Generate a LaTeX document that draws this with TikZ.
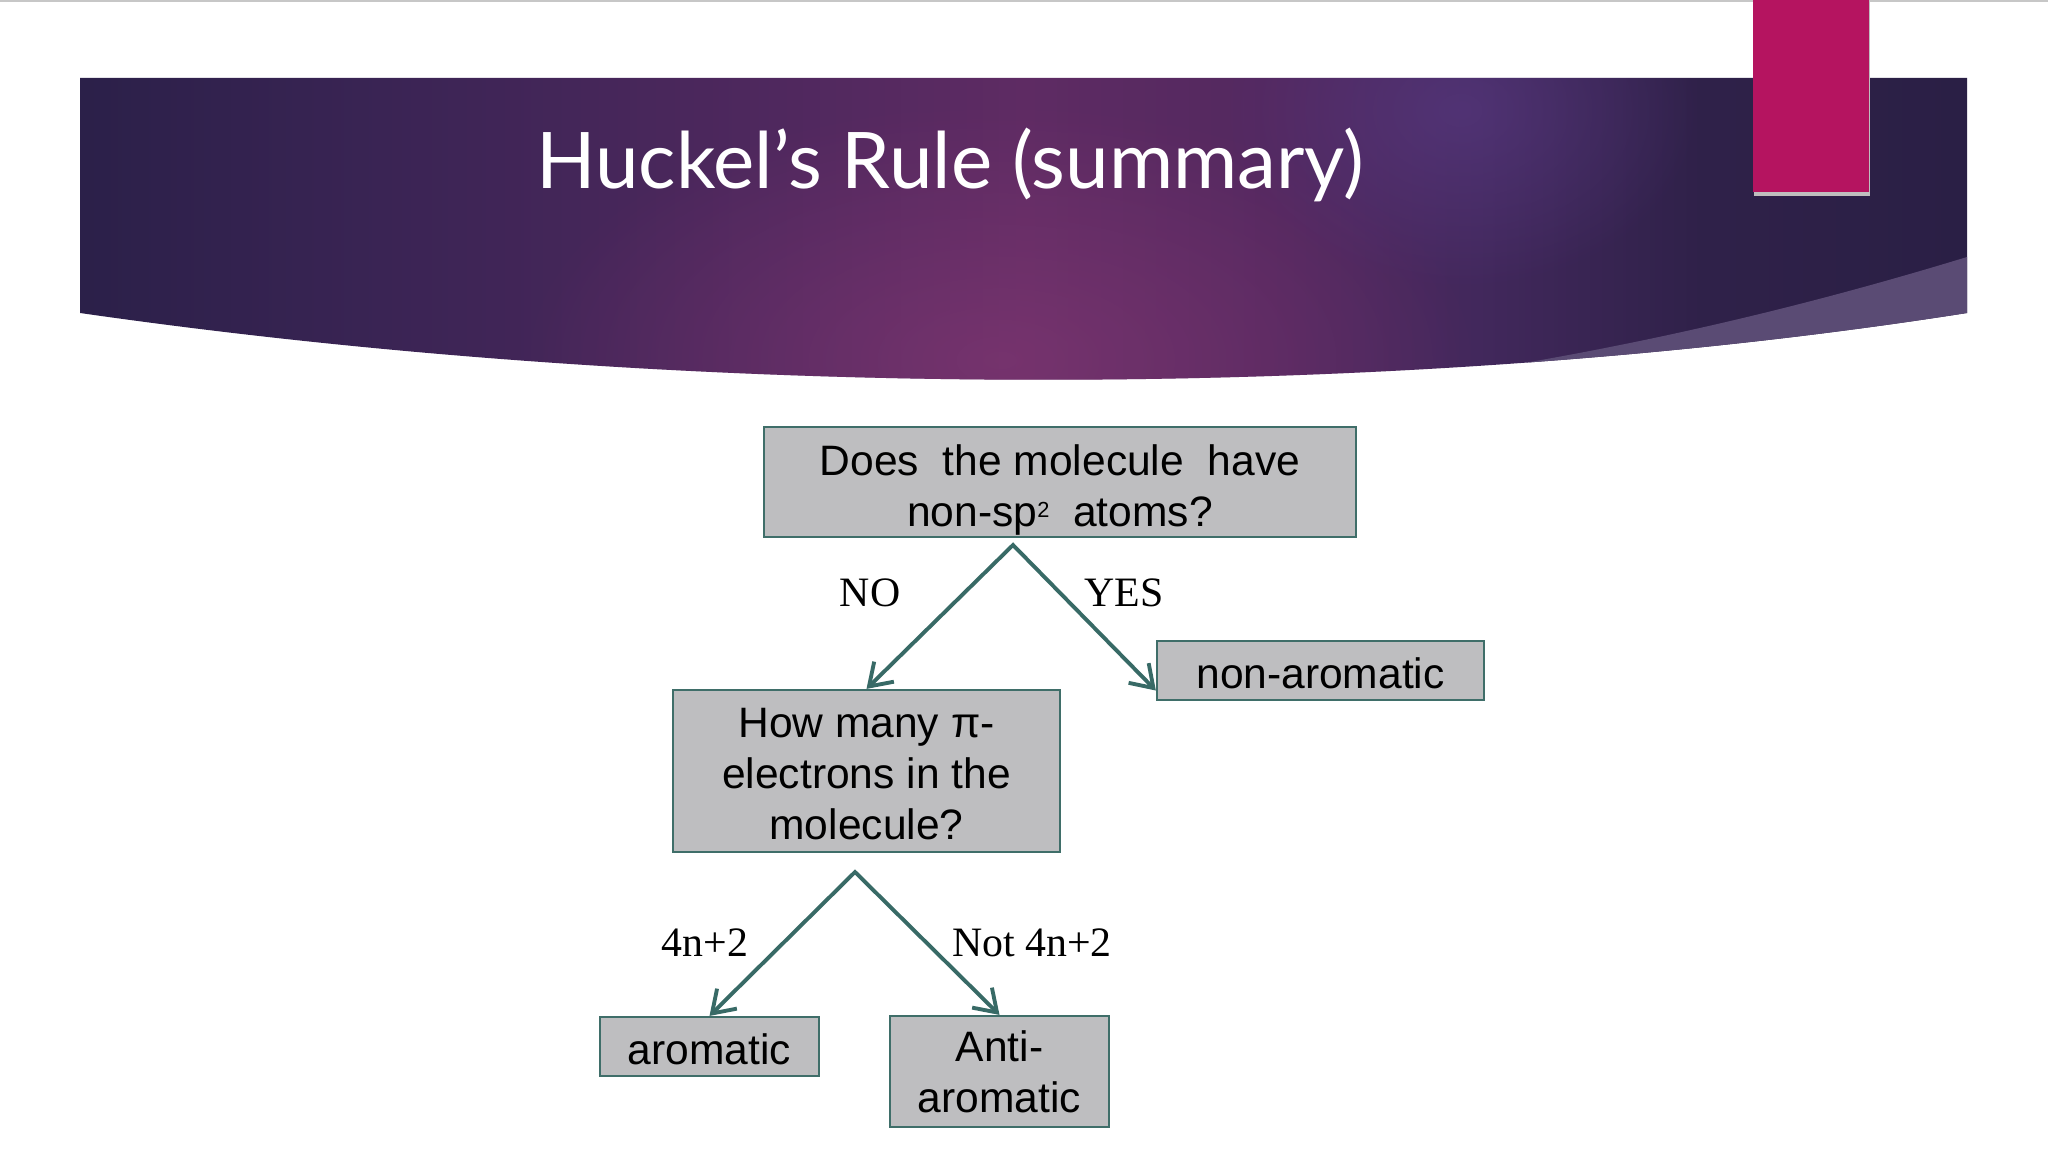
\documentclass[tikz,border=0pt]{standalone}
\usepackage{fontspec}
\setmainfont{Liberation Sans}
\newfontfamily\timesfont{Liberation Serif}
\newfontfamily\titlefont{Lato}
\usetikzlibrary{arrows.meta,fadings}
\definecolor{boxfill}{HTML}{BEBEC0}
\definecolor{boxline}{HTML}{3F6E69}
\definecolor{arrowteal}{HTML}{386A66}
\definecolor{tagpink}{HTML}{B51460}
\definecolor{swoosh}{HTML}{5A4B74}
\definecolor{glowpink}{HTML}{8A3A76}
\definecolor{glowviolet}{HTML}{5C3C88}
\definecolor{bnA}{HTML}{2B2049}
\definecolor{bnB}{HTML}{3A2454}
\definecolor{bnC}{HTML}{4F285E}
\definecolor{bnD}{HTML}{5E2B63}
\definecolor{bnE}{HTML}{52285F}
\definecolor{bnF}{HTML}{42285C}
\definecolor{bnG}{HTML}{2F2149}
\definecolor{bnH}{HTML}{2A1F45}
\pgfdeclarehorizontalshading{bannershade}{100bp}{color(0bp)=(bnA); color(25bp)=(bnA); color(33bp)=(bnB); color(43.5bp)=(bnC); color(50bp)=(bnD); color(57bp)=(bnE); color(62bp)=(bnF); color(68bp)=(bnG); color(75bp)=(bnH); color(100bp)=(bnH)}
\tikzfading[name=glowfade, inner color=transparent!45, outer color=transparent!100]
\newcommand{\smalltwo}{\raisebox{2.6pt}{\fontsize{6.2}{7}\selectfont 2}}
\begin{document}
\begin{tikzpicture}[x=0.01cm,y=-0.01cm,>={Straight Barb[length=6pt,width=8pt]},
  box/.style={draw=boxline,line width=0.6pt,fill=boxfill,align=center,inner sep=0pt,text height=10.3pt,font=\fontsize{12.1}{14.6}\selectfont},
  lab/.style={font=\timesfont\fontsize{11.9}{14}\selectfont},
  link/.style={<->,draw=arrowteal,line width=1.1pt}]
\useasboundingbox (0,0) rectangle (2048,1152);
\fill[white] (0,0) rectangle (2048,1152);
\draw[black!22,line width=0.6pt] (0,1) -- (2048,1);
% title banner
\path[shading=bannershade] (80,78) -- (1967,78) -- (1967,313) .. controls (1400,402) and (700,402) .. (80,313) -- cycle;
\begin{scope}
  \clip (80,78) -- (1967,78) -- (1967,313) .. controls (1400,402) and (700,402) .. (80,313) -- cycle;
  \fill[glowpink, path fading=glowfade] (1000,360) ellipse (480 and 260);
  \fill[glowviolet, path fading=glowfade] (1460,110) ellipse (240 and 180);
  \fill[swoosh] (1967,257) .. controls (1800,308) and (1640,345) .. (1470,372) -- (1300,420) -- (2000,420) -- (2000,257) -- cycle;
\end{scope}
\node[text=white,font=\titlefont\fontsize{22.2}{27}\selectfont,anchor=base] (title) at (950,189) {Huckel’s Rule (summary)};
% tag
\fill[black!25] (1754,0) rectangle (1870,196);
\fill[tagpink] (1753,0) rectangle (1869,192);
% flow chart
\node[box,text height=27.9pt,minimum width=5.92cm,minimum height=1.10cm] (q1) at (1060,482) {Does~~the molecule~~have\\non-sp\smalltwo~~atoms?};
\node[box,text height=39.3pt,minimum width=3.87cm,minimum height=1.62cm] (q2) at (866.5,771) {How many π-\\electrons in the\\molecule?};
\node[box,minimum width=3.27cm,minimum height=0.59cm] (nonarom) at (1320.5,670.5) {non-aromatic};
\node[box,minimum width=2.19cm,minimum height=0.59cm] (arom) at (709.5,1046.5) {aromatic};
\node[box,text height=23.6pt,minimum width=2.19cm,minimum height=1.11cm] (antiarom) at (999.5,1071.5) {Anti-\\aromatic};
\coordinate (split1) at (1013,545);
\coordinate (split2) at (855,872);
\draw[link] (q2.north) -- (split1) -- ([yshift=3pt]nonarom.south west);
\draw[link] (arom.north) -- (split2) -- (antiarom.north);
\node[lab] (no) at (870,593) {NO};
\node[lab] (yes) at (1124,593) {YES};
\node[lab] (fourn) at (705,943) {4n+2};
\node[lab] (notfourn) at (1032,943) {Not 4n+2};
\end{tikzpicture}
\end{document}
